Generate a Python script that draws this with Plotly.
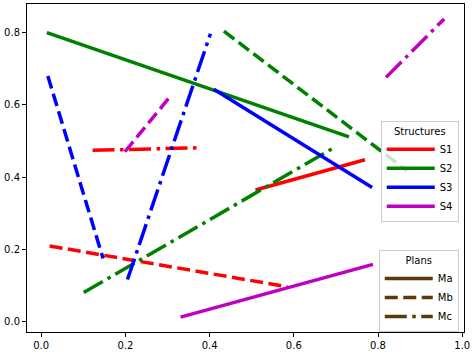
import plotly.graph_objects as go

structures = ["S1", "S2", "S3", "S4"]
plans = ["Ma", "Mb", "Mc"]
struct_colors = ["#ff0000", "#008000", "#0000ff", "#bf00bf"]
plan_color = "#5a3a0c"
plan_dashes = ["solid", "13px,5.5px", "22px,5.5px,3.5px,5.5px"]

# segment endpoints: per structure, per plan [start, end]
s1_x = [[0.509, 0.769], [0.020, 0.585], [0.122, 0.375]]
s1_y = [[0.364, 0.448], [0.209, 0.096], [0.474, 0.481]]
s2_x = [[0.0135, 0.731], [0.434, 0.869], [0.101, 0.695]]
s2_y = [[0.800, 0.511], [0.804, 0.417], [0.080, 0.481]]
s3_x = [[0.410, 0.786], [0.0158, 0.147], [0.205, 0.402]]
s3_y = [[0.643, 0.371], [0.680, 0.174], [0.116, 0.797]]
s4_x = [[0.331, 0.788], [0.199, 0.302], [0.819, 0.957]]
s4_y = [[0.012, 0.158], [0.470, 0.617], [0.676, 0.838]]

all_x = [s1_x, s2_x, s3_x, s4_x]
all_y = [s1_y, s2_y, s3_y, s4_y]

fig = go.Figure()
for si, sname in enumerate(structures):
    for pi, pname in enumerate(plans):
        fig.add_trace(go.Scatter(
            x=all_x[si][pi], y=all_y[si][pi], mode="lines",
            line=dict(color=struct_colors[si], width=3.5, dash=plan_dashes[pi]),
            showlegend=False, hoverinfo="skip"))

for si, sname in enumerate(structures):
    fig.add_trace(go.Scatter(x=[None], y=[None], mode="lines", name=sname,
                             line=dict(color=struct_colors[si], width=3.5),
                             legend="legend"))
for pi, pname in enumerate(plans):
    fig.add_trace(go.Scatter(x=[None], y=[None], mode="lines", name=pname,
                             line=dict(color=plan_color, width=3.5, dash=plan_dashes[pi]),
                             legend="legend2"))

flat_x = [v for s in all_x for seg in s for v in seg]
flat_y = [v for s in all_y for seg in s for v in seg]
dx = max(flat_x) - min(flat_x)
dy = max(flat_y) - min(flat_y)
xr = [min(flat_x) - 0.05 * dx, max(flat_x) + 0.05 * dx]
yr = [min(flat_y) - 0.05 * dy, max(flat_y) + 0.05 * dy]

font = dict(family="DejaVu Sans", size=10, color="black")
axis_common = dict(showline=True, linecolor="black", linewidth=1, mirror=True,
                   ticks="outside", ticklen=4, tickcolor="black", showgrid=False,
                   zeroline=False, tickformat=".1f", tickfont=font)

legend_common = dict(bgcolor="rgba(255,255,255,0.8)", bordercolor="#cccccc",
                     borderwidth=1, font=font, xanchor="right", x=0.988,
                     tracegroupgap=0, itemwidth=48)

fig.update_layout(
    width=474, height=354,
    margin=dict(l=27, r=10, t=3, b=21),
    paper_bgcolor="white", plot_bgcolor="white",
    font=font,
    xaxis=dict(range=xr, dtick=0.2, tick0=0, **axis_common),
    yaxis=dict(range=yr, dtick=0.2, tick0=0, **axis_common),
    legend=dict(title=dict(text="Structures", side="top center", font=font),
                yanchor="middle", y=0.49, **legend_common),
    legend2=dict(title=dict(text="Plans", side="top center", font=font),
                 yanchor="bottom", y=0.0, **legend_common),
)

fig.write_html("out.html")
